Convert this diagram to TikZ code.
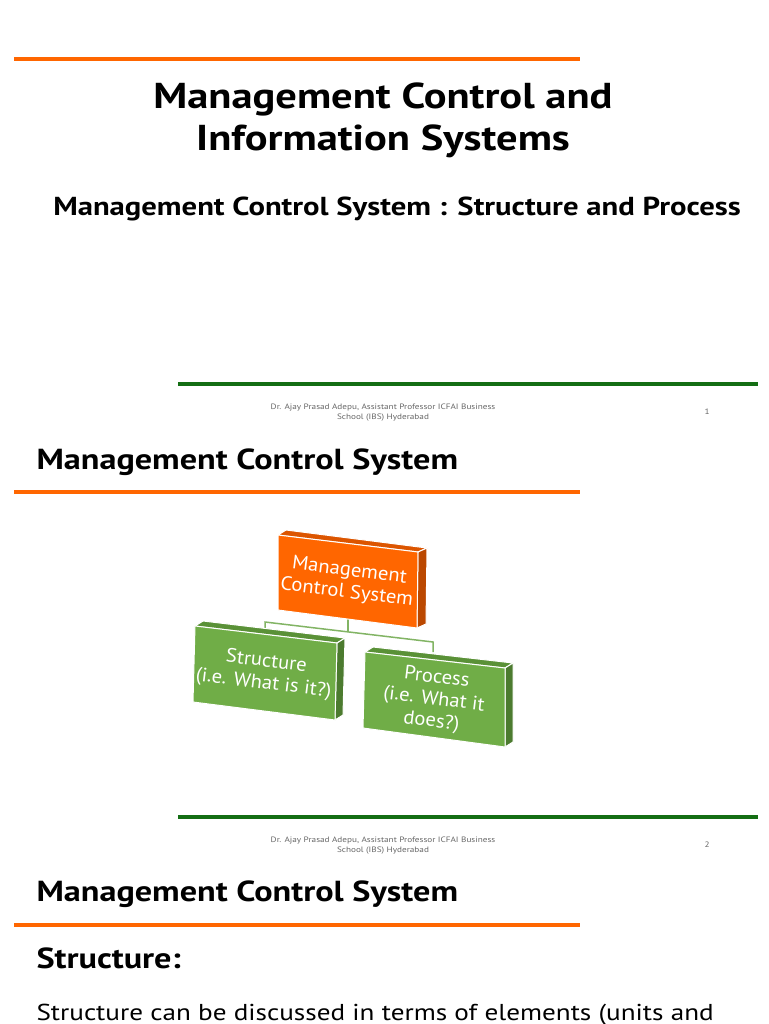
\documentclass[tikz,border=0pt]{standalone}
\usepackage{fontspec}
\setmainfont{PT Sans}[FakeStretch=1.18]
\newfontfamily\boxfont{PT Sans}[FakeStretch=1.06]
\definecolor{orng}{RGB}{255,102,0}
\definecolor{orngd}{RGB}{220,85,0}
\definecolor{grn}{RGB}{112,173,71}
\definecolor{grnd}{RGB}{90,145,55}
\definecolor{dgreen}{RGB}{20,110,20}
\definecolor{conn}{RGB}{130,180,100}
\tikzset{
 oline/.style={orng,line width=4pt},
 gline/.style={dgreen,line width=4pt},
 foot/.style={font=\fontsize{7.8}{10}\selectfont,text=gray!80!black,align=center},
 boxtxt/.style={text=white,align=center,rotate=-7,font=\boxfont\fontsize{19.5}{22}\selectfont},
 face/.style={draw=white,line width=1pt}
}
\begin{document}
\begin{tikzpicture}[x=1pt,y=-1pt]
\useasboundingbox[fill=white] (0,0) rectangle (768,1024);
% slide 1
\draw[oline] (14,59) coordinate (o1a) -- (580,59) coordinate (o1b);
\node (t1) at (383,99) {\fontsize{36}{40}\selectfont\bfseries Management Control and};
\node (t2) at (383,141) {\fontsize{36}{40}\selectfont\bfseries Information Systems};
\node (t3) at (397,209) {\fontsize{26}{28}\selectfont\bfseries Management Control System : Structure and Process};
\draw[gline] (178,384) coordinate (g1a) -- (758,384) coordinate (g1b);
\node[foot] (f1) at (383,413) {Dr. Ajay Prasad Adepu, Assistant Professor ICFAI Business\\School (IBS) Hyderabad};
\node[foot] (p1) at (707,412) {1};
% slide 2
\node[anchor=west] (h2) at (33,462) {\fontsize{29}{33}\selectfont\bfseries Management Control System};
\draw[oline] (14,492) coordinate (o2a) -- (580,492) coordinate (o2b);
% connectors
\draw[conn,line width=1.5pt] (348,618) coordinate (c0) -- (348,632) coordinate (c1);
\draw[conn,line width=1.5pt] (265,634) coordinate (cl) -- (265,622) coordinate (cl2) -- (433,642) coordinate (cr2) -- (433,652) coordinate (cr);
% orange box
\fill[orngd,face] (278,535) -- (286,530) -- (427,548) -- (418,552) -- cycle;
\fill[orngd!85!black,face] (418,552) -- (427,548) -- (426,624) -- (417,628) -- cycle;
\fill[orng,face] (278,535) -- (418,552) -- (417,628) -- (278,610) -- cycle;
\node[boxtxt] (mcs) at (348,582) {Management\\Control System};
% structure box
\fill[grnd,face] (195,626) -- (203,621) -- (345,638) -- (337,643) -- cycle;
\fill[grnd!85!black,face] (337,643) -- (345,638) -- (343,715) -- (335,720) -- cycle;
\fill[grn,face] (195,626) -- (337,643) -- (335,720) -- (193,702) -- cycle;
\node[boxtxt] (st) at (265,673) {Structure\\(i.e. What is it?)};
% process box
\fill[grnd,face] (365,652) -- (373,647) -- (513,663) -- (505,668) -- cycle;
\fill[grnd!85!black,face] (505,668) -- (513,663) -- (513,742) -- (505,747) -- cycle;
\fill[grn,face] (365,652) -- (505,668) -- (505,747) -- (363,728) -- cycle;
\node[boxtxt] (pr) at (434,700) {Process\\(i.e. What it\\does?)};
\draw[gline] (178,817) coordinate (g2a) -- (758,817) coordinate (g2b);
\node[foot] (f2) at (383,846) {Dr. Ajay Prasad Adepu, Assistant Professor ICFAI Business\\School (IBS) Hyderabad};
\node[foot] (p2) at (707,845) {2};
% slide 3
\node[anchor=west] (h3) at (33,894) {\fontsize{29}{33}\selectfont\bfseries Management Control System};
\draw[oline] (14,925) coordinate (o3a) -- (580,925) coordinate (o3b);
\node[anchor=west] (s3) at (33,958) {\fontsize{29}{33}\selectfont\bfseries Structure:};
\node[anchor=west] (b3) at (33,1015) {\fontsize{23}{28}\selectfont Structure can be discussed in terms of elements (units and};
\end{tikzpicture}
\end{document}
